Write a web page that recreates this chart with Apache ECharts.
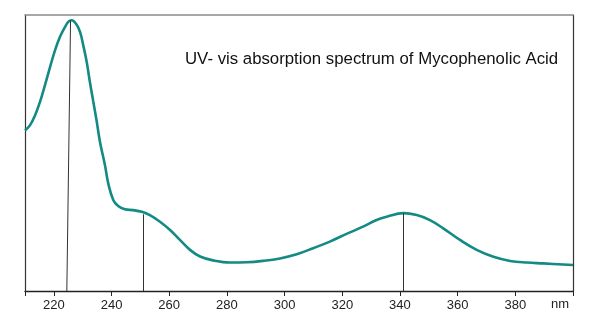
<!DOCTYPE html>
<html>
<head>
<meta charset="utf-8">
<script src="https://cdn.jsdelivr.net/npm/echarts@6/dist/echarts.min.js"></script>
<style>html,body{margin:0;padding:0;background:#fff}#c{width:600px;height:328px}</style>
</head>
<body>
<div id="c"></div>
<script>
// Wavelength (nm) and relative absorbance
const wavelengths = [210.0,211.7,213.5,215.2,216.9,218.7,220.4,222.1,223.9,225.0,226.2,227.7,229.1,230.2,231.4,232.5,233.7,234.9,236.0,237.7,238.9,240.6,242.3,244.6,247.5,250.5,253.3,256.8,260.3,263.7,267.2,270.7,275.2,281.1,286.9,292.5,298.4,304.2,309.9,315.7,321.5,327.2,331.9,335.4,341.2,345.8,350.4,355.0,360.8,366.6,372.4,378.2,384.0,389.7,400.0];
const absorbance  = [0.582,0.600,0.637,0.685,0.745,0.812,0.872,0.920,0.957,0.975,0.981,0.968,0.938,0.890,0.830,0.757,0.685,0.612,0.540,0.457,0.388,0.330,0.308,0.296,0.293,0.287,0.275,0.251,0.221,0.185,0.149,0.125,0.111,0.103,0.104,0.109,0.118,0.133,0.155,0.179,0.207,0.233,0.257,0.269,0.282,0.275,0.257,0.227,0.185,0.149,0.124,0.109,0.103,0.100,0.094];
// Drop lines: top point and foot point
const dropTopX = [225.8, 250.9, 341.2];
const dropTopY = [0.981, 0.278, 0.282];
const dropFootX = [224.5, 250.9, 341.2];
const tickValues = [210,220,240,260,280,300,320,340,360,380,400];
const labelValues = [220,240,260,280,300,320,340,360,380];
const titleText = 'UV- vis absorption spectrum of Mycophenolic Acid';
const unitText = 'nm';

const chart = echarts.init(document.getElementById('c'), null, {renderer:'canvas'});
const seriesData = wavelengths.map((w,i)=>[w, absorbance[i]]);
const dropLines = dropTopX.map((x,i)=>[{coord:[x, dropTopY[i]]},{coord:[dropFootX[i], 0]}]);
const font = 'Liberation Sans, Arial, sans-serif';
chart.setOption({
  animation:false,
  backgroundColor:'#fff',
  grid:{left:25,right:27,top:15,bottom:37,containLabel:false},
  xAxis:[{
    type:'value',min:210,max:400,position:'bottom',
    splitLine:{show:false},
    axisLine:{show:true,onZero:false,lineStyle:{color:'#222',width:1.3}},
    axisTick:{show:true,length:5,lineStyle:{color:'#222'},customValues:tickValues},
    axisLabel:{show:true,customValues:labelValues,color:'#222',fontSize:13,fontFamily:font,margin:8}
  },{
    type:'value',min:210,max:400,position:'top',
    splitLine:{show:false},axisTick:{show:false},axisLabel:{show:false},
    axisLine:{show:true,onZero:false,lineStyle:{color:'#8a8a8a',width:1.5}}
  }],
  yAxis:[{
    type:'value',min:0,max:1,position:'left',
    splitLine:{show:false},axisTick:{show:false},axisLabel:{show:false},
    axisLine:{show:true,onZero:false,lineStyle:{color:'#333',width:1.2}}
  },{
    type:'value',min:0,max:1,position:'right',
    splitLine:{show:false},axisTick:{show:false},axisLabel:{show:false},
    axisLine:{show:true,onZero:false,lineStyle:{color:'#333',width:1.2}}
  }],
  graphic:[
    {type:'text',left:185,top:51,style:{text:titleText,font:'16.8px '+font,fill:'#111'}},
    {type:'text',left:551,top:298,style:{text:unitText,font:'13px '+font,fill:'#222'}}
  ],
  series:[{
    type:'line',data:seriesData,smooth:0.4,showSymbol:false,
    lineStyle:{color:'#138a83',width:2.6},
    markLine:{silent:true,symbol:'none',label:{show:false},
      lineStyle:{color:'#333',width:1,type:'solid'},data:dropLines}
  }]
});
</script>
</body>
</html>
